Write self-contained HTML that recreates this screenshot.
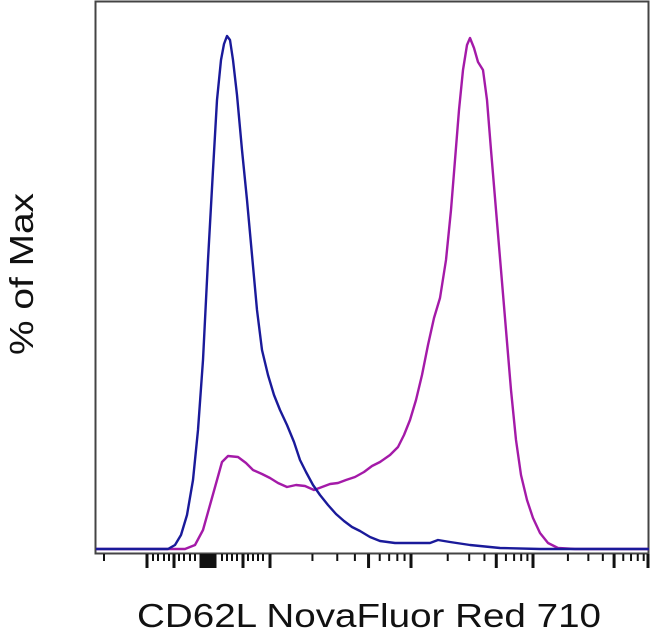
<!DOCTYPE html>
<html><head><style>
html,body{margin:0;padding:0;background:#fff;}
</style></head><body>
<svg width="650" height="634" viewBox="0 0 650 634" xmlns="http://www.w3.org/2000/svg">
<rect x="95.5" y="1.5" width="553" height="552" fill="none" stroke="#444" stroke-width="2"/>
<g stroke="#111" stroke-width="2" id="ticks"></g>
<path fill="none" stroke="#a41aa8" stroke-width="2.4" stroke-linejoin="round" d="M96,549 L185,549 L195,545 L203,530 L210,505 L217,480 L222,462 L228,456 L238,457 L246,463 L253,470 L262,474 L270,478 L278,483 L287,487 L296,485 L305,486 L314,490 L322,487 L330,484 L338,483 L346,480 L355,477 L364,472 L372,466 L380,462 L390,455 L398,447 L404,435 L410,420 L416,400 L422,375 L428,345 L434,318 L440,298 L446,260 L451,210 L455,160 L459,110 L463,70 L467,45 L470,38 L474,48 L478,62 L483,70 L487,100 L491,150 L496,210 L501,270 L506,330 L511,390 L516,440 L521,475 L527,500 L533,518 L540,533 L548,543 L558,548 L575,549 L649,549"/>
<path fill="none" stroke="#1a1a9a" stroke-width="2.4" stroke-linejoin="round" d="M96,549 L168,549 L175,545 L181,535 L187,515 L193,480 L198,430 L203,360 L208,260 L213,170 L217,100 L221,60 L224,44 L227,36 L230,40 L233,60 L237,95 L242,150 L247,200 L252,255 L257,310 L262,350 L268,375 L274,395 L280,410 L287,425 L294,442 L300,460 L306,472 L313,485 L320,495 L328,505 L336,514 L344,521 L352,527 L360,531 L370,537 L380,541 L395,543 L430,543 L438,540 L450,542 L470,545 L500,548 L540,549 L649,549"/>
<text x="137" y="627" font-family="Liberation Sans, sans-serif" font-size="33" textLength="464" lengthAdjust="spacingAndGlyphs" fill="#111">CD62L NovaFluor Red 710</text>
<text transform="translate(33,355) rotate(-90)" font-family="Liberation Sans, sans-serif" font-size="33" textLength="162" lengthAdjust="spacingAndGlyphs" fill="#111">% of Max</text>
</svg>
<script>
var g=document.getElementById('ticks');
function t(x,major){var l=document.createElementNS('http://www.w3.org/2000/svg','line');
l.setAttribute('x1',x);l.setAttribute('x2',x);l.setAttribute('y1',554);l.setAttribute('y2',major?568:561);
if(major)l.setAttribute('stroke-width','3');g.appendChild(l);}
t(104,0);t(147,1);
[153,158,164,169,174,179,184,190,195].forEach(function(x){t(x,0)});
t(174,1);
[201,203,205,207,209,211,213,215].forEach(function(x){t(x,1)});
[222,227,232,237,243,248,253,258,263].forEach(function(x){t(x,0)});
t(243,1);t(270,1);
[[270,141],[411,122],[533,116]].forEach(function(d){for(var k=2;k<10;k++){t(d[0]+d[1]*Math.log10(k),k==5);}});
t(411,1);t(533,1);t(648,1);
</script>
</body></html>
